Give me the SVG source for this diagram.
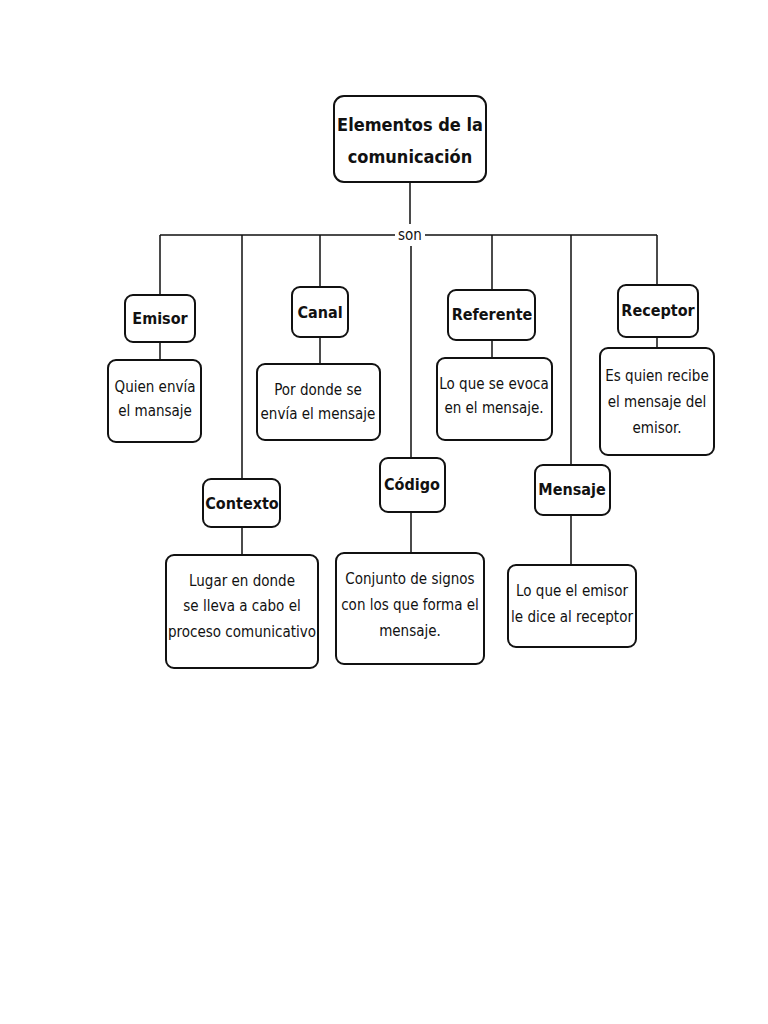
<svg xmlns="http://www.w3.org/2000/svg" width="768" height="1024" viewBox="0 0 768 1024">
<style>
.b{fill:#fff;stroke:#111;stroke-width:2}
.t{font-family:"DejaVu Sans Condensed","DejaVu Sans",sans-serif;font-size:15px;fill:#111;text-anchor:middle}
.h{font-weight:bold;font-size:16px}
.c{stroke:#111;stroke-width:1.5;fill:none}
</style>
<rect width="768" height="1024" fill="#fff"/>
<g id="connectors">
<path class="c" d="M410 182V224M160 235H395M425 235H657M160 235V295M242 235V479M320 235V287M411 246V458M492 235V290M571 235V465M657 235V285M160 342V360M320 337V364M492 340V358M657 337V348M242 527V555M411 512V553M571 515V565"/>
<text class="t" x="410" y="240">son</text>
</g>
<g id="title"><rect class="b" x="334" y="96" width="152" height="86" rx="10"/><text class="t h" x="410" y="131" style="font-size:18px">Elementos de la</text><text class="t h" x="410" y="163" style="font-size:18px">comunicación</text></g>
<g id="emisor"><rect class="b" x="125" y="295" width="70" height="47" rx="8"/><text class="t h" x="160" y="324">Emisor</text></g>
<g id="emisor-d"><rect class="b" x="108" y="360" width="93" height="82" rx="8"/><text class="t" x="155" y="392">Quien envía</text><text class="t" x="155" y="416">el mansaje</text></g>
<g id="canal"><rect class="b" x="292" y="287" width="56" height="50" rx="8"/><text class="t h" x="320" y="318">Canal</text></g>
<g id="canal-d"><rect class="b" x="257" y="364" width="123" height="76" rx="8"/><text class="t" x="318" y="395">Por donde se</text><text class="t" x="318" y="419">envía el mensaje</text></g>
<g id="referente"><rect class="b" x="448" y="290" width="87" height="50" rx="8"/><text class="t h" x="492" y="320">Referente</text></g>
<g id="referente-d"><rect class="b" x="437" y="358" width="115" height="82" rx="8"/><text class="t" x="494" y="389">Lo que se evoca</text><text class="t" x="494" y="413">en el mensaje.</text></g>
<g id="receptor"><rect class="b" x="618" y="285" width="80" height="52" rx="8"/><text class="t h" x="658" y="316">Receptor</text></g>
<g id="receptor-d"><rect class="b" x="600" y="348" width="114" height="107" rx="8"/><text class="t" x="657" y="381">Es quien recibe</text><text class="t" x="657" y="407">el mensaje del</text><text class="t" x="657" y="433">emisor.</text></g>
<g id="contexto"><rect class="b" x="203" y="479" width="77" height="48" rx="8"/><text class="t h" x="242" y="509">Contexto</text></g>
<g id="contexto-d"><rect class="b" x="166" y="555" width="152" height="113" rx="8"/><text class="t" x="242" y="586">Lugar en donde</text><text class="t" x="242" y="611">se lleva a cabo el</text><text class="t" x="242" y="637">proceso comunicativo</text></g>
<g id="codigo"><rect class="b" x="380" y="458" width="65" height="54" rx="8"/><text class="t h" x="412" y="490">Código</text></g>
<g id="codigo-d"><rect class="b" x="336" y="553" width="148" height="111" rx="8"/><text class="t" x="410" y="584">Conjunto de signos</text><text class="t" x="410" y="610">con los que forma el</text><text class="t" x="410" y="636">mensaje.</text></g>
<g id="mensaje"><rect class="b" x="535" y="465" width="75" height="50" rx="8"/><text class="t h" x="572" y="495">Mensaje</text></g>
<g id="mensaje-d"><rect class="b" x="508" y="565" width="128" height="82" rx="8"/><text class="t" x="572" y="596">Lo que el emisor</text><text class="t" x="572" y="622">le dice al receptor</text></g>
</svg>
